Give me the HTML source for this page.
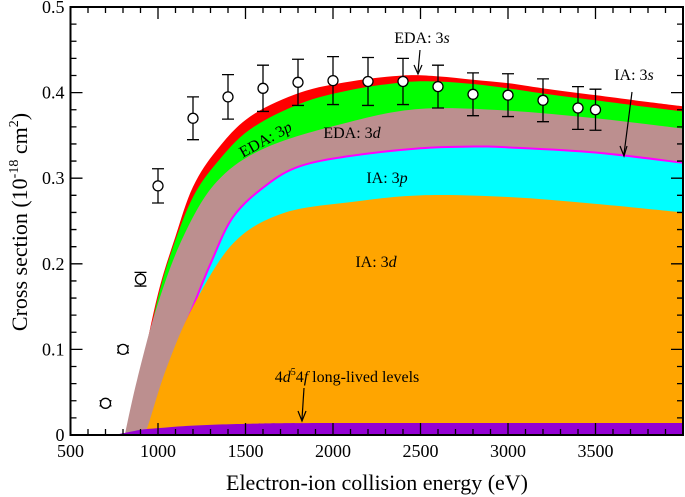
<!DOCTYPE html>
<html><head><meta charset="utf-8"><style>
body{margin:0;background:#fff}
svg{display:block;font-family:"Liberation Serif",serif}
</style></head><body>
<svg id="chart" width="685" height="497" viewBox="0 0 685 497" xmlns="http://www.w3.org/2000/svg">
<g id="bands"></g>
<g id="points"></g>
<g id="axes"></g>
<g font-size="16">
 <text x="422" y="43" text-anchor="middle">EDA: 3<tspan font-style="italic">s</tspan></text>
 <line x1="420" y1="50" x2="418" y2="72" stroke="#000" stroke-width="1.2"/>
 <path d="M414,65 L418,74 L422,65" fill="none" stroke="#000" stroke-width="1.2"/>
 <text x="634" y="80" text-anchor="middle">IA: 3<tspan font-style="italic">s</tspan></text>
 <line x1="632" y1="92" x2="624" y2="154" stroke="#000" stroke-width="1.2"/>
 <path d="M620,146 L624,156 L627,146" fill="none" stroke="#000" stroke-width="1.2"/>
 <text x="268" y="144" text-anchor="middle" transform="rotate(-29 268 144)">EDA: 3<tspan font-style="italic">p</tspan></text>
 <text x="352" y="138" text-anchor="middle">EDA: 3<tspan font-style="italic">d</tspan></text>
 <text x="387" y="183" text-anchor="middle">IA: 3<tspan font-style="italic">p</tspan></text>
 <text x="376" y="267" text-anchor="middle">IA: 3<tspan font-style="italic">d</tspan></text>
 <text x="347" y="382" text-anchor="middle">4<tspan font-style="italic">d</tspan><tspan font-size="10" dy="-7">5</tspan><tspan dy="7">4</tspan><tspan font-style="italic">f</tspan> long-lived levels</text>
 <line x1="304" y1="388" x2="302" y2="419" stroke="#000" stroke-width="1.2"/>
 <path d="M298,411 L302,421 L306,411" fill="none" stroke="#000" stroke-width="1.2"/>
</g>
<text x="377" y="490" text-anchor="middle" font-size="22">Electron-ion collision energy (eV)</text>
<text transform="translate(27 222) rotate(-90)" text-anchor="middle" font-size="22">Cross section (10<tspan font-size="14" dy="-9">-18</tspan><tspan dy="9"> cm</tspan><tspan font-size="14" dy="-9">2</tspan><tspan dy="9">)</tspan></text>
</svg>
<script>
const xTicks = [500,1000,1500,2000,2500,3000,3500];
const yTicks = [0,0.1,0.2,0.3,0.4,0.5];
const yTickLabels = ["0","0.1","0.2","0.3","0.4","0.5"];
const redE = [830,900,1000,1100,1200,1336,1526,1811,2100,2400,2600,2800,3000,3200,3500,3800,4000];
const redV = [0,0.07,0.165,0.232,0.29,0.333,0.372,0.400,0.413,0.42,0.419,0.415,0.411,0.405,0.397,0.389,0.384];
const greenE = [820,900,1000,1087,1200,1336,1526,1811,2100,2400,2600,2800,3000,3200,3500,3800,4000];
const greenV = [0,0.065,0.16,0.22,0.278,0.318,0.357,0.387,0.403,0.412,0.413,0.41,0.405,0.399,0.391,0.383,0.378];
const brownE = [810,880,994,1143,1336,1620,2100,2500,3000,3500,4000];
const brownV = [0,0.064,0.15,0.231,0.296,0.336,0.366,0.381,0.379,0.37,0.358];
const cyanE = [1150,1200,1300,1430,1620,1811,2100,2500,2800,3000,3500,4000];
const cyanV = [0.126,0.15,0.2,0.255,0.292,0.314,0.326,0.335,0.337,0.336,0.33,0.318];
const orangeE = [925,954,1050,1200,1430,1715,2100,2500,3000,3500,4000];
const orangeV = [0,0.018,0.079,0.15,0.224,0.259,0.272,0.28,0.278,0.27,0.26];
const purpleE = [750,800,900,1000,1200,1500,2000,4000];
const purpleV = [0,0.002,0.006,0.008,0.011,0.013,0.014,0.014];
const ptE = [700,800,900,1000,1200,1400,1600,1800,2000,2200,2400,2600,2800,3000,3200,3400,3500];
const ptV = [0.037,0.100,0.182,0.291,0.370,0.395,0.405,0.412,0.414,0.413,0.413,0.407,0.398,0.397,0.391,0.382,0.380];
const ptErr = [0.003,0.004,0.008,0.02,0.025,0.026,0.027,0.027,0.028,0.028,0.027,0.025,0.025,0.025,0.025,0.025,0.024];

const X0=70.5,X1=683,Y0=435,Y1=7,EMIN=500,EMAX=4000,VMAX=0.5;
const sx=e=>X0+(e-EMIN)/(EMAX-EMIN)*(X1-X0);
const sy=v=>Y0-v/VMAX*(Y0-Y1);
const NS="http://www.w3.org/2000/svg";
function mk(tag,attrs,parent){const el=document.createElementNS(NS,tag);for(const k in attrs)el.setAttribute(k,attrs[k]);parent.appendChild(el);return el;}
function curve(E,V){
  const p=E.map((e,i)=>[sx(e),sy(V[i])]);
  let d="M"+p[0][0]+","+p[0][1];
  for(let i=0;i<p.length-1;i++){
    const a=p[Math.max(i-1,0)],b=p[i],c=p[i+1],n=p[Math.min(i+2,p.length-1)];
    const c1=[b[0]+(c[0]-a[0])/6,b[1]+(c[1]-a[1])/6],c2=[c[0]-(n[0]-b[0])/6,c[1]-(n[1]-b[1])/6];
    d+=` C${c1[0]},${c1[1]} ${c2[0]},${c2[1]} ${c[0]},${c[1]}`;
  }
  return d;
}
function area(E,V){return curve(E,V)+` L${sx(E[E.length-1])},${Y0} L${sx(E[0])},${Y0} Z`;}
const bands=document.getElementById('bands');
let el;
el=mk('path',{d:area(redE,redV),fill:'#ff0000'},bands);


el=mk('path',{d:area(greenE,greenV),fill:'#00ff00'},bands);


el=mk('path',{d:area(brownE,brownV),fill:'#bc8f8f'},bands);


el=mk('path',{d:area(cyanE,cyanV),fill:'#00ffff'},bands);


el=mk('path',{d:curve(cyanE,cyanV),fill:'none',stroke:'#ff00ff','stroke-width':2},bands);


el=mk('path',{d:area(orangeE,orangeV),fill:'#ffa500'},bands);


el=mk('path',{d:area(purpleE,purpleV),fill:'#9400d3'},bands);



const pts=document.getElementById('points');
ptE.forEach((e,i)=>{
  const x=sx(e),yt=sy(ptV[i]+ptErr[i]),yb=sy(ptV[i]-ptErr[i]);
  const g=mk('g',{},pts);
  
  
  mk('path',{d:`M${x},${yt}V${yb}M${x-6},${yt}H${x+6}M${x-6},${yb}H${x+6}`,stroke:'#000','stroke-width':1.3,fill:'none'},g);
  mk('circle',{cx:x,cy:sy(ptV[i]),r:5,fill:'#fff',stroke:'#000','stroke-width':1.3},g);
});

const ax=document.getElementById('axes');
el=mk('rect',{x:X0,y:Y1,width:X1-X0,height:Y0-Y1,fill:'none',stroke:'#000','stroke-width':2},ax);


let td="";
for(let e=500;e<=4000;e+=100){const x=sx(e),L=e%500===0?12:6;td+=`M${x},${Y0}v${-L}M${x},${Y1}v${L}`;}
for(let k=0;k<=25;k++){const v=k*0.02,y=sy(v),L=k%5===0?12:6;td+=`M${X0},${y}h${L}M${X1},${y}h${-L}`;}
el=mk('path',{d:td,stroke:'#000','stroke-width':1.3,fill:'none'},ax);


xTicks.forEach(t=>{
  const tx=mk('text',{x:sx(t),y:Y0+22,'text-anchor':'middle','font-size':18},ax);
  tx.textContent=t;
  
  
});
yTicks.forEach((t,i)=>{
  const tx=mk('text',{x:X0-6,y:sy(t)+6,'text-anchor':'end','font-size':18},ax);
  tx.textContent=yTickLabels[i];
  
  
});
</script>
</body></html>
